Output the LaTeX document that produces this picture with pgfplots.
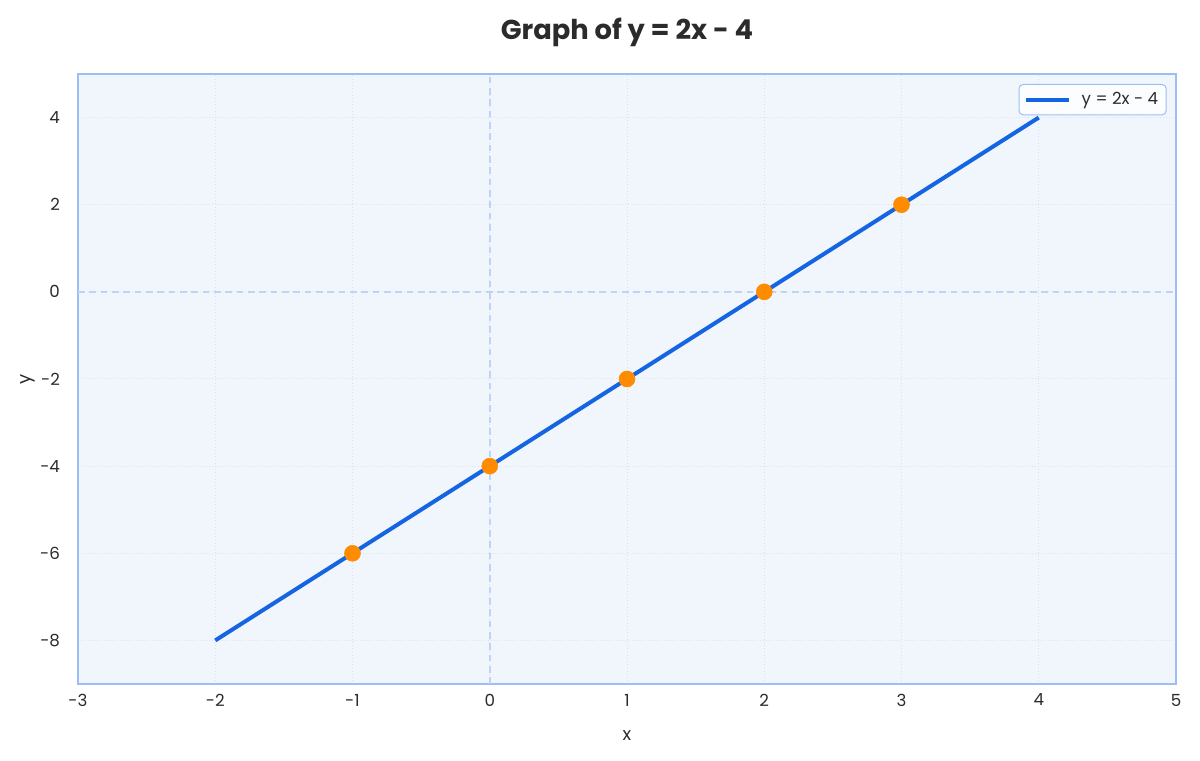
\documentclass[border=0pt]{standalone}
\usepackage{pgfplots}
\pgfplotsset{compat=1.18}
\usepackage{fontspec}
\setmainfont{Poppins}
\definecolor{bgc}{HTML}{F1F6FD}
\definecolor{framec}{HTML}{9DBDF5}
\definecolor{gridc}{HTML}{D8E2EE}
\definecolor{zeroc}{HTML}{BED3F5}
\definecolor{linec}{HTML}{1565E3}
\definecolor{markc}{HTML}{FF8C00}
\definecolor{textc}{HTML}{2B2B2B}
\begin{document}
\begin{tikzpicture}[x=0.75pt,y=0.75pt]
\begin{axis}[
  name=ax,
  scale only axis,
  width=823.5pt, height=457.5pt,
  xmin=-3, xmax=5, ymin=-9, ymax=5,
  xtick={-3,-2,...,5}, ytick={-8,-6,...,4},
  major tick length=0pt,
  axis background/.style={fill=bgc},
  axis line style={framec, line width=1.5pt},
  grid=major,
  major grid style={gridc, dotted, line width=0.75pt},
  /pgf/number format/assume math mode=true,
  ticklabel style={font=\fontsize{12.5}{14}\selectfont, text=textc},
  xticklabel style={yshift=-4pt},
  yticklabel style={xshift=-10pt},
  xlabel={x}, ylabel={y},
  label style={font=\fontsize{13.5}{15}\selectfont, text=textc},
  xlabel style={yshift=-11pt},
  ylabel style={yshift=-3pt},
  title={\textbf{Graph of y = 2x - 4}},
  title style={font=\fontsize{20.5}{23}\selectfont, text=textc, yshift=11pt},
  legend style={at={(0.9915,0.9836)}, anchor=north east, draw=framec, line width=0.75pt, fill=white, fill opacity=0.8, text opacity=1, rounded corners=3pt, font=\fontsize{12.5}{14}\selectfont, text=textc, inner xsep=4pt, inner ysep=4pt},
  legend image code/.code={\draw[#1, line width=3pt] (0pt,0pt) -- (32pt,0pt);},
  legend cell align=left,
  clip=false,
]
\addplot[zeroc, dash pattern=on 5pt off 3.5pt, line width=1.2pt, forget plot] coordinates {(-3,0) (5,0)};
\addplot[zeroc, dash pattern=on 5pt off 3.5pt, line width=1.2pt, forget plot] coordinates {(0,-9) (0,5)};
\addplot[linec, line width=3pt] coordinates {(-2,-8) (4,4)};
\addlegendentry{\hspace{6pt}y = 2x - 4}
\addplot[only marks, mark=*, mark size=6pt, markc, mark options={draw=markc, fill=markc}, forget plot] coordinates {(-1,-6) (0,-4) (1,-2) (2,0) (3,2)};
\end{axis}
\useasboundingbox ([xshift=-78*0.75pt, yshift=-77*0.75pt]ax.south west) rectangle ([xshift=24*0.75pt, yshift=74*0.75pt]ax.north east);
\end{tikzpicture}
\end{document}
